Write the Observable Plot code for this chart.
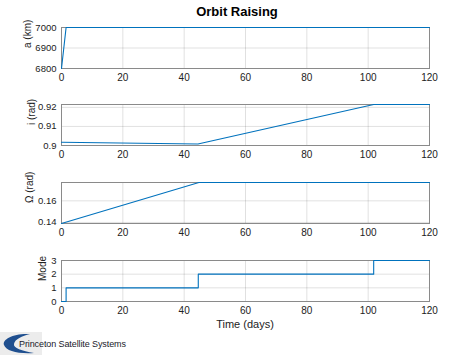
<!DOCTYPE html>
<html>
<head>
<meta charset="utf-8">
<script src="https://cdn.jsdelivr.net/npm/d3@7"></script>
<script src="https://cdn.jsdelivr.net/npm/@observablehq/plot@0.6"></script>
<style>
  html, body { margin: 0; padding: 0; background: #fff; }
  #wrap { position: relative; width: 474px; height: 355px; overflow: hidden; font-family: "Liberation Sans", Arial, sans-serif; }
  .panel { position: absolute; left: 0; }
  #title { position: absolute; left: 0; width: 474px; top: 4px; text-align: center; font-weight: bold; font-size: 13px; color: #000; }
  #xlabel { position: absolute; left: 61px; width: 368px; top: 318px; text-align: center; font-size: 11px; color: #222; }
  #logo { position: absolute; left: 0; top: 332px; width: 42px; height: 23px; background: #ececec; }
  #logotext { position: absolute; left: 19px; top: 339px; font-size: 9px; color: #1a1a2a; letter-spacing: -0.1px; }
</style>
</head>
<body>
<div id="wrap">
  <div id="title">Orbit Raising</div>
  <div id="xlabel">Time (days)</div>
  <div id="logo">
    <svg width="42" height="23" viewBox="0 0 42 23">
      <path d="M30 2 C14 1, 2 7, 4 13 C6 19, 18 22, 34 21 C22 19, 13 16, 14 12 C15 7, 22 4, 30 2 Z" fill="#1f4f8f"/>
    </svg>
  </div>
  <div id="logotext">Princeton Satellite Systems</div>
</div>
<script>
// ---- data ----
const xTicks = [0, 20, 40, 60, 80, 100, 120];

const tA = [0, 1.5, 120];
const aKm = [6800, 7000, 7000];
const aTicks = [6800, 6900, 7000];

const tI = [0, 44.5, 101.8, 120];
const iRad = [0.9017, 0.9008, 0.9215, 0.9215];
const iTicks = [0.9, 0.91, 0.92];

const tO = [0, 44.8, 120];
const oRad = [0.139, 0.177, 0.177];
const oTicks = [0.14, 0.16];

const tM = [0, 1.5, 44.6, 101.8, 120];
const mode = [0, 1, 2, 3, 3];
const mTicks = [0, 1, 2, 3];

// ---- drawing ----
const color = "#0072BD";
const wrap = document.getElementById("wrap");

function panel(frameTop, ts, ys, yDomain, yTicks, yLabel, labelDx, tickFmt, curve) {
  const data = ts.map((t, k) => ({t, y: ys[k]}));
  const mt = 20;
  const chart = Plot.plot({
    width: 474,
    height: 90,
    marginTop: mt,
    marginBottom: 29,
    marginLeft: 61,
    marginRight: 45,
    style: {fontFamily: "Liberation Sans, Arial, sans-serif", fontSize: "9.5px", color: "#222", background: "transparent", overflow: "visible"},
    x: {domain: [0, 120], ticks: xTicks, tickSize: 0, tickPadding: 4, label: null},
    y: {domain: yDomain, ticks: yTicks, tickSize: 0, tickPadding: 5, label: null, tickFormat: tickFmt},
    marks: [
      Plot.gridX(xTicks, {stroke: "#000", strokeOpacity: 0.12}),
      Plot.gridY(yTicks, {stroke: "#000", strokeOpacity: 0.12}),
      Plot.frame({stroke: "#8a8a8a", strokeWidth: 1}),
      Plot.axisX({ticks: xTicks, tickSize: 0, tickPadding: 5, fontSize: 10}),
      Plot.axisY({ticks: yTicks, tickSize: 0, tickPadding: 5, tickFormat: tickFmt, fontSize: 9.5}),
      Plot.line(data, {x: "t", y: "y", stroke: color, strokeWidth: 1.1, curve: curve || "linear"}),
      Plot.text([yLabel], {frameAnchor: "left", dx: labelDx, rotate: -90, fontSize: 10, fill: "#222", text: d => d})
    ]
  });
  chart.classList.add("panel");
  chart.style.top = (frameTop - mt) + "px";
  wrap.appendChild(chart);
}

panel(26.7, tA, aKm, [6800, 7000], aTicks, "a (km)", -33.5, d => String(d));
panel(104, tI, iRad, [0.9, 0.9215], iTicks, "i (rad)", -30, d => d3.format("~g")(d));
panel(182.3, tO, oRad, [0.139, 0.177], oTicks, "Ω (rad)", -31.5, d => d3.format("~g")(d));
panel(259.7, tM, mode, [0, 3], mTicks, "Mode", -19, d => String(d), "step-after");
</script>
</body>
</html>
